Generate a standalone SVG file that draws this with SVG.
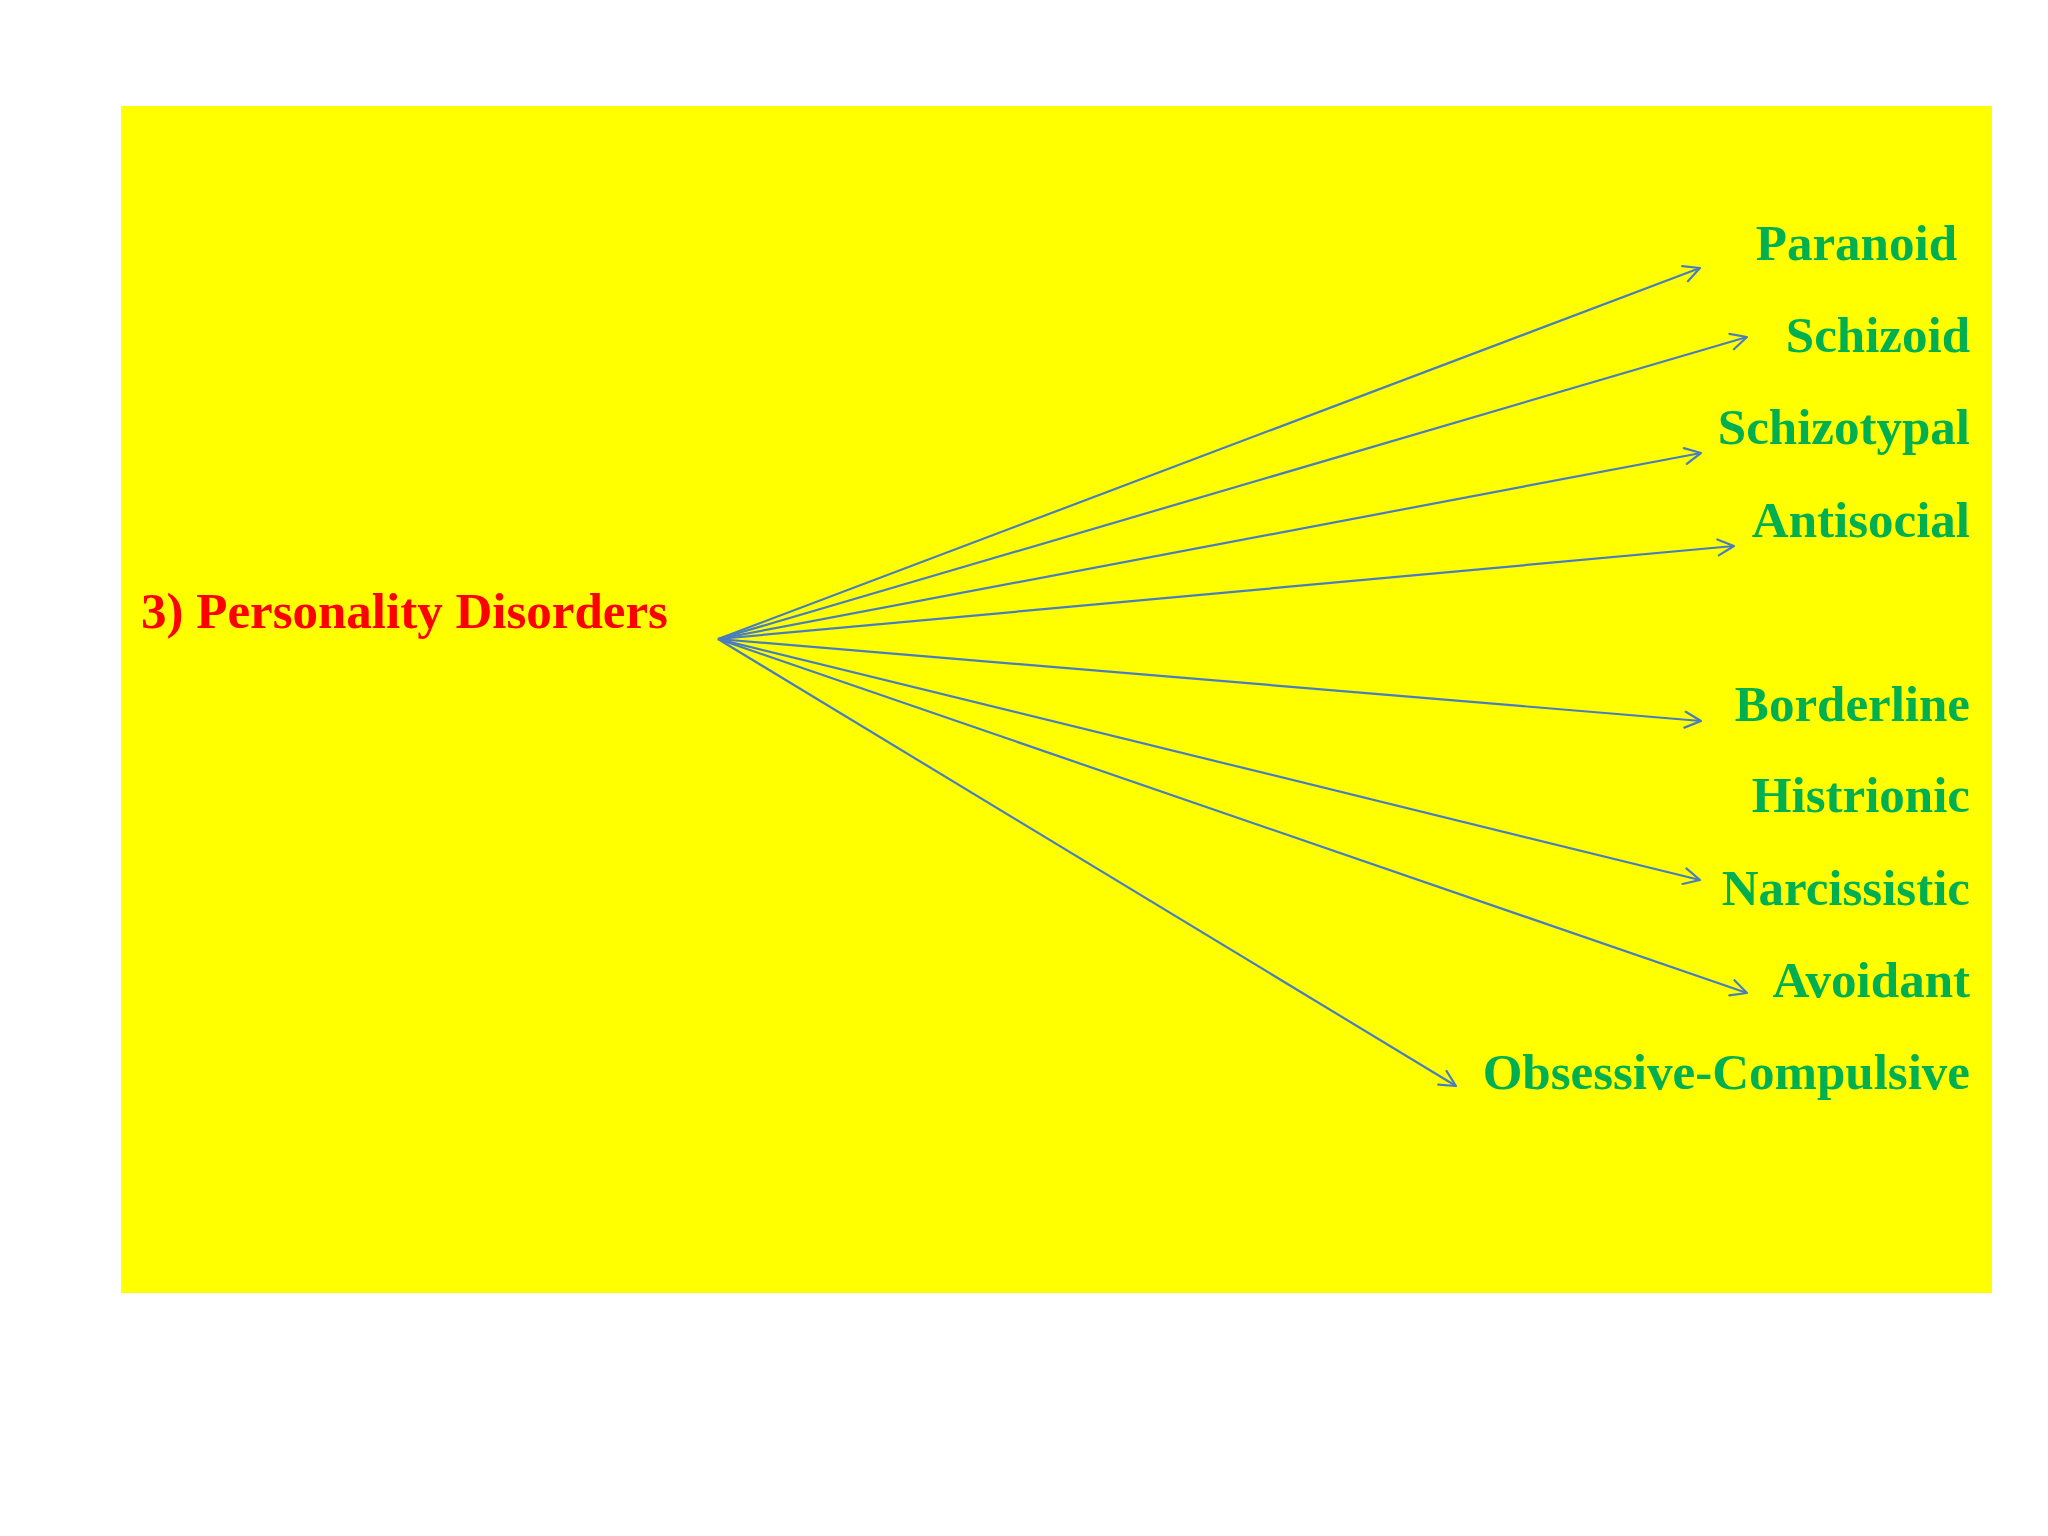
<svg xmlns="http://www.w3.org/2000/svg" width="2048" height="1536" viewBox="0 0 2048 1536">
<defs>
<marker id="arr" markerUnits="userSpaceOnUse" markerWidth="24" markerHeight="24" viewBox="-20 -12 24 24" refX="0" refY="0" orient="auto" overflow="visible">
<path d="M-16,-8 L0,0 L-16,8" fill="none" stroke="#4a7ebb" stroke-width="2.2" stroke-linecap="round" stroke-linejoin="round"/>
</marker>
</defs>
<style>
.lbl{font-family:"Liberation Serif","Times New Roman",serif;font-weight:bold;font-size:51px;fill:#00b050;text-anchor:end}
.title{font-family:"Liberation Serif","Times New Roman",serif;font-weight:bold;font-size:51px;fill:#ff0000}
.con{stroke:#4a7ebb;stroke-width:2.2;fill:none;marker-end:url(#arr)}
</style>
<rect x="0" y="0" width="2048" height="1536" fill="#ffffff"/>
<rect x="121" y="106" width="1871" height="1187" fill="#ffff00"/>
<g id="root"><text class="title" x="141" y="628">3) Personality Disorders</text></g>
<g id="paranoid"><text class="lbl" x="1957" y="260">Paranoid</text></g>
<g id="schizoid"><text class="lbl" x="1970" y="352">Schizoid</text></g>
<g id="schizotypal"><text class="lbl" x="1970" y="444">Schizotypal</text></g>
<g id="antisocial"><text class="lbl" x="1970" y="537">Antisocial</text></g>
<g id="borderline"><text class="lbl" x="1970" y="721">Borderline</text></g>
<g id="histrionic"><text class="lbl" x="1970" y="812">Histrionic</text></g>
<g id="narcissistic"><text class="lbl" x="1970" y="905">Narcissistic</text></g>
<g id="avoidant"><text class="lbl" x="1970" y="997">Avoidant</text></g>
<g id="obsessive"><text class="lbl" x="1970" y="1089">Obsessive-Compulsive</text></g>
<g id="connectors">
<line class="con" x1="718" y1="639" x2="1700" y2="268"/>
<line class="con" x1="718" y1="639" x2="1747" y2="337"/>
<line class="con" x1="718" y1="639" x2="1701" y2="453"/>
<line class="con" x1="718" y1="639" x2="1734" y2="546"/>
<line class="con" x1="718" y1="639" x2="1701" y2="721"/>
<line class="con" x1="718" y1="639" x2="1700" y2="880"/>
<line class="con" x1="718" y1="639" x2="1747" y2="993"/>
<line class="con" x1="718" y1="639" x2="1456" y2="1086"/>
</g>
</svg>
